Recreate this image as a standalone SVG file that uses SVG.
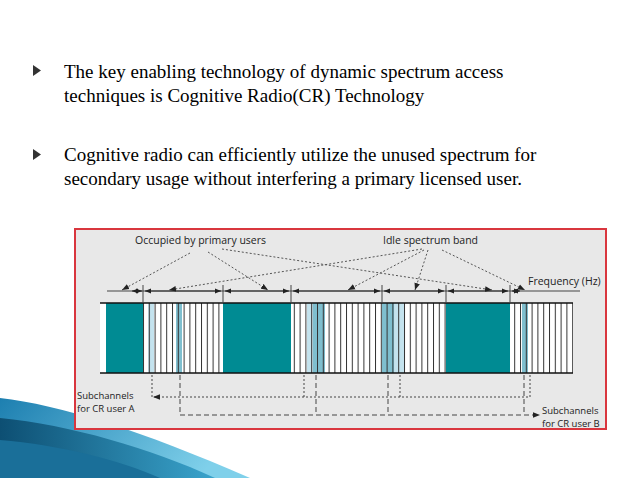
<svg xmlns="http://www.w3.org/2000/svg" width="638" height="478" viewBox="0 0 638 478">
<defs>
<style>
.t{font-family:"Liberation Serif",serif;font-size:19px;fill:#000}
.s{font-family:"Open Sans","DejaVu Sans",sans-serif;font-size:10.5px;fill:#222}
.s2{font-family:"Open Sans","DejaVu Sans",sans-serif;font-size:9.5px;fill:#222}
.seg{stroke:#333;stroke-width:1;marker-start:url(#ah);marker-end:url(#ah)}
.ptr{stroke:#555;stroke-width:1;stroke-dasharray:2 2;fill:none;marker-end:url(#ah2)}
.dot{stroke:#444;stroke-width:1;stroke-dasharray:2 2;fill:none}
.dash{stroke:#444;stroke-width:1;stroke-dasharray:5 3;fill:none}
.teal{fill:#008b93}
</style>
<marker id="ah" viewBox="0 0 10 10" refX="10" refY="5" markerWidth="6" markerHeight="6" orient="auto-start-reverse"><path d="M0,1 L10,5 L0,9z" fill="#222"/></marker>
<marker id="ah2" viewBox="0 0 10 10" refX="10" refY="5" markerWidth="7" markerHeight="7" orient="auto"><path d="M0,1 L10,5 L0,9z" fill="#222"/></marker>
<pattern id="stripes" x="143" y="0" width="5.8" height="10" patternUnits="userSpaceOnUse"><line x1="0.5" y1="0" x2="0.5" y2="10" stroke="#333" stroke-width="1"/></pattern>
<linearGradient id="g1" x1="0" y1="0" x2="1" y2="0.3"><stop offset="0" stop-color="#1d7fb0"/><stop offset="1" stop-color="#7fd0ea"/></linearGradient>
<linearGradient id="g2" x1="0" y1="0" x2="1" y2="0"><stop offset="0" stop-color="#0d4f73"/><stop offset="1" stop-color="#3aa4cc"/></linearGradient>
</defs>
<rect width="638" height="478" fill="#fff"/>
<g id="swoosh">
<path d="M0,398 C60,405 140,430 250,478 L0,478Z" fill="url(#g1)"/>
<path d="M0,418 C70,425 150,448 215,478 L0,478Z" fill="url(#g2)"/>
<path d="M0,440 C60,445 120,460 160,478 L0,478Z" fill="#1a6f99"/>
</g>
<g id="bullets">
<path d="M33,65 L41,70.5 L33,76Z" fill="#333"/>
<text class="t" x="64" y="78">The key enabling technology of dynamic spectrum access</text>
<text class="t" x="64" y="102">techniques is Cognitive Radio(CR) Technology</text>
<path d="M33,149 L41,154.5 L33,160Z" fill="#333"/>
<text class="t" x="64" y="161"> Cognitive radio can efficiently utilize the unused spectrum for</text>
<text class="t" x="64" y="185">secondary usage without interfering a primary licensed user.</text>
</g>
<g id="figure">
<rect x="75" y="229" width="531" height="200" fill="#e8e8e8" stroke="#d9363e" stroke-width="2"/>
<text class="s" x="135" y="244">Occupied by primary users</text>
<text class="s" x="383" y="244">Idle spectrum band</text>
<text class="s" x="528" y="285">Frequency (Hz)</text>
<text class="s2" x="77" y="399">Subchannels</text>
<text class="s2" x="77" y="412">for CR user A</text>
<text class="s2" x="542" y="414">Subchannels</text>
<text class="s2" x="542" y="427">for CR user B</text>
<g id="spectrum">
<rect x="100" y="303" width="473" height="70" fill="#fff"/>
<rect x="148" y="303" width="6" height="70" fill="#c4e3ee"/>
<rect x="176" y="303" width="6" height="70" fill="#7fbfcf"/>
<rect x="307" y="303" width="6" height="70" fill="#c4e3ee"/>
<rect x="313" y="303" width="12" height="70" fill="#7fbfcf"/>
<rect x="382" y="303" width="12" height="70" fill="#7fbfcf"/>
<rect x="394" y="303" width="10" height="70" fill="#c4e3ee"/>
<rect x="522" y="303" width="6" height="70" fill="#7fbfcf"/>
<rect x="143" y="303" width="80" height="70" fill="url(#stripes)"/>
<rect x="291" y="303" width="155" height="70" fill="url(#stripes)"/>
<rect x="510" y="303" width="63" height="70" fill="url(#stripes)"/>
<rect class="teal" x="106" y="303" width="37" height="70"/>
<rect class="teal" x="223" y="303" width="68" height="70"/>
<rect class="teal" x="446" y="303" width="64" height="70"/>
<line x1="100" y1="303" x2="573" y2="303" stroke="#111" stroke-width="1.5"/>
<line x1="100" y1="373" x2="573" y2="373" stroke="#111" stroke-width="1.5"/>
</g>
</g>
<g id="connectors">
<line x1="107" y1="291" x2="580" y2="291" stroke="#444"/>
<g stroke="#444"><line x1="143" y1="285" x2="143" y2="303"/><line x1="223" y1="285" x2="223" y2="303"/><line x1="291" y1="285" x2="291" y2="303"/><line x1="382" y1="285" x2="382" y2="303"/><line x1="446" y1="285" x2="446" y2="303"/><line x1="510" y1="285" x2="510" y2="303"/></g>
<line class="seg" x1="132" y1="291" x2="142" y2="291" marker-start="none"/>
<line class="seg" x1="145" y1="291" x2="221" y2="291"/>
<line class="seg" x1="225" y1="291" x2="289" y2="291"/>
<line class="seg" x1="293" y1="291" x2="380" y2="291"/>
<line class="seg" x1="384" y1="291" x2="444" y2="291"/>
<line class="seg" x1="448" y1="291" x2="508" y2="291"/>
<line class="seg" x1="512" y1="291" x2="520" y2="291" marker-end="none"/>
<path class="ptr" d="M190,253 L122,290"/>
<path class="ptr" d="M208,252 L268,290"/>
<path class="ptr" d="M222,249 L492,290"/>
<path class="ptr" d="M422,249 L169,290"/>
<path class="ptr" d="M424,250 L348,290"/>
<path class="ptr" d="M428,250 L415,290"/>
<path class="ptr" d="M442,250 L525,290"/>
<path class="dot" d="M152,375 V397 M304,375 V397 M400,375 V397 M530,375 V397 H153" marker-end="url(#ah2)"/>
<path class="dash" d="M316,375 V415 M388,375 V415 M524,375 V415 M180,375 V415 H540" marker-end="url(#ah2)"/>
</g>
</svg>
